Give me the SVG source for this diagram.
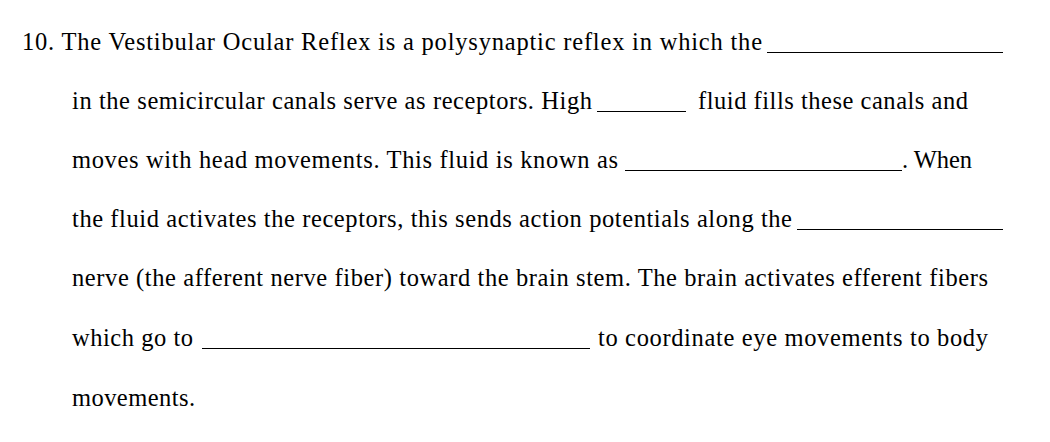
<svg xmlns="http://www.w3.org/2000/svg" width="1050" height="442" viewBox="0 0 1050 442">
<style>
text{font-family:"Liberation Serif","Times New Roman",serif;font-size:24.5px;fill:#000}
line{stroke:#000;stroke-width:1}
</style>
<rect width="1050" height="442" fill="#fff"/>
<text x="22" y="50" textLength="740" lengthAdjust="spacing">10. The Vestibular Ocular Reflex is a polysynaptic reflex in which the</text>
<line x1="767" y1="52.5" x2="1003" y2="52.5"/>
<text x="72" y="109" textLength="520" lengthAdjust="spacing">in the semicircular canals serve as receptors. High</text>
<line x1="597" y1="111.5" x2="686" y2="111.5"/>
<text x="698" y="109" textLength="270" lengthAdjust="spacing">fluid fills these canals and</text>
<text x="72" y="168" textLength="546" lengthAdjust="spacing">moves with head movements. This fluid is known as</text>
<line x1="625" y1="170.5" x2="902" y2="170.5"/>
<text x="902" y="168" textLength="70" lengthAdjust="spacing">. When</text>
<text x="72" y="227" textLength="720" lengthAdjust="spacing">the fluid activates the receptors, this sends action potentials along the</text>
<line x1="797" y1="229.5" x2="1003" y2="229.5"/>
<text x="72" y="286" textLength="916" lengthAdjust="spacing">nerve (the afferent nerve fiber) toward the brain stem. The brain activates efferent fibers</text>
<text x="72" y="346" textLength="121" lengthAdjust="spacing">which go to</text>
<line x1="202" y1="348.5" x2="590" y2="348.5"/>
<text x="598" y="346" textLength="390" lengthAdjust="spacing">to coordinate eye movements to body</text>
<text x="72" y="406" textLength="123" lengthAdjust="spacing">movements.</text>
</svg>
